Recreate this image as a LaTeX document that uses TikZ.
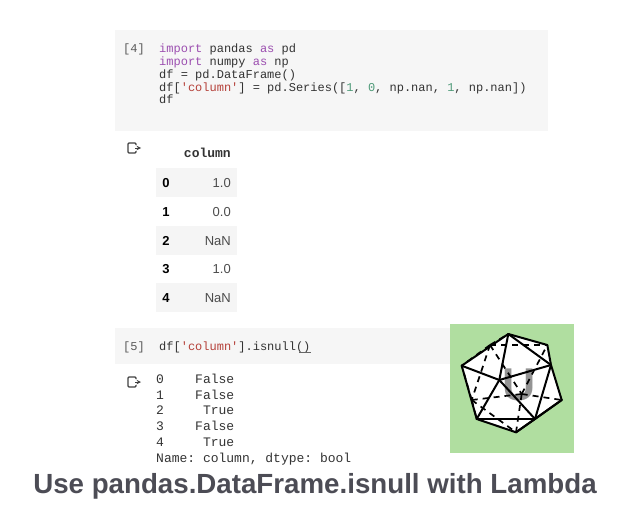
\documentclass[tikz,border=0pt]{standalone}
\usepackage{fontspec}
\usepackage{xcolor}
\setmainfont{Liberation Sans}
\newfontfamily\codefont{Liberation Mono}
\frenchspacing
\definecolor{cellgray}{HTML}{F6F6F6}
\definecolor{stripegray}{HTML}{F5F5F5}
\definecolor{kwpurple}{HTML}{9C4FB0}
\definecolor{strred}{HTML}{B5413A}
\definecolor{numgreen}{HTML}{4E9A78}
\definecolor{codetext}{HTML}{333333}
\definecolor{icogreen}{HTML}{B0DEA0}
\definecolor{titlegray}{HTML}{4C4C55}
\newcommand{\kw}[1]{\textcolor{kwpurple}{#1}}
\newcommand{\st}[1]{\textcolor{strred}{#1}}
\newcommand{\nm}[1]{\textcolor{numgreen}{#1}}
\tikzset{
    codeline/.style={anchor=base west, inner sep=0pt, text=codetext, font=\codefont\fontsize{12}{12}\selectfont},
    outline/.style={anchor=base west, inner sep=0pt, text=codetext, font=\codefont\fontsize{13}{13}\selectfont},
    promptnum/.style={anchor=base west, inner sep=0pt, text=black!65, font=\codefont\fontsize{12}{12}\selectfont},
    rowidx/.style={anchor=base, inner sep=0pt, font=\bfseries\fontsize{13}{13}\selectfont},
    rowval/.style={anchor=base east, inner sep=0pt, text=black!70, font=\fontsize{13}{13}\selectfont},
    solidedge/.style={line width=2pt, line join=round, line cap=round},
    backedge/.style={line width=1.7pt, dash pattern=on 6pt off 5pt},
}
\begin{document}
\begin{tikzpicture}[x=1pt, y=-1pt]
    \useasboundingbox (0,0) rectangle (623,516);

    \fill[cellgray] (115,30) rectangle (548,131);
    \fill[cellgray] (115,328) rectangle (450,364);
    \fill[icogreen] (450,324) rectangle (574,453);

    \node[promptnum] (prompta) at (123,53) {[4]};
    \node[codeline] (linea) at (159,53) {\kw{import} pandas \kw{as} pd};
    \node[codeline] (lineb) at (159,66) {\kw{import} numpy \kw{as} np};
    \node[codeline] (linec) at (159,79) {df = pd.DataFrame()};
    \node[codeline] (lined) at (159,92) {df[\st{'column'}] = pd.Series([\nm{1}, \nm{0}, np.nan, \nm{1}, np.nan])};
    \node[codeline] (linee) at (159,104) {df};

    \foreach \ypos in {148,382} {
        \draw[black!75, line width=1.2pt, rounded corners=1pt] (136,\ypos-3) to (136,\ypos-5) to (128,\ypos-5) to (128,\ypos+5) to (136,\ypos+5) to (136,\ypos+3);
        \draw[black!75, line width=1pt, -stealth] (135,\ypos) to (141,\ypos);
    }

    \node[anchor=base east, inner sep=0pt, text=codetext, font=\codefont\bfseries\fontsize{13}{13}\selectfont] (colhead) at (231,157) {column};
    \foreach \rowtop in {168,226,283} {
        \fill[stripegray] (156,\rowtop) rectangle (237,\rowtop+29);
    }
    \foreach \n/\ybase/\val in {0/187/1.0, 1/216/0.0, 2/245/NaN, 3/273/1.0, 4/302/NaN} {
        \node[rowidx] (idx\n) at (166,\ybase) {\n};
        \node[rowval] (val\n) at (231,\ybase) {\val};
    }

    \node[promptnum] (promptb) at (123,350) {[5]};
    \node[codeline] (linef) at (159,350) {df[\st{'column'}].isnull()};
    \draw[black!60, line width=0.5pt] (299,352) to (311,352);

    \foreach \n/\ybase/\val in {0/383/0\ \ \ \ False, 1/399/1\ \ \ \ False, 2/414/2\ \ \ \ \ True, 3/430/3\ \ \ \ False, 4/446/4\ \ \ \ \ True} {
        \node[outline] (out\n) at (156,\ybase) {\val};
    }
    \node[outline] (outname) at (156,462) {Name: column, dtype: bool};

    \coordinate (top) at (508.3,334);
    \coordinate (upr) at (547.3,345);
    \coordinate (rgt) at (551,365);
    \coordinate (far) at (561.7,400);
    \coordinate (lwr) at (535,419);
    \coordinate (bot) at (516,432.3);
    \coordinate (lwl) at (476.7,419);
    \coordinate (lft) at (461.7,365.7);
    \coordinate (mid) at (499.3,380);
    \coordinate (backa) at (490,345);
    \coordinate (backb) at (471.7,400);
    \coordinate (backc) at (521.7,394);

    \fill[white] (top) to (upr) to (rgt) to (far) to (bot) to (lwl) to (lft) to cycle;
    \node[inner sep=0pt, text=black!42, font=\bfseries\fontsize{46}{46}\selectfont] (letter) at (518.7,385) {U};

    \foreach \a/\b in {backa/upr, backa/lft, backa/backb, backa/top, backa/backc, backb/backc, backb/lwl, backb/bot, backb/lft, backc/upr, backc/far, backc/bot} {
        \draw[backedge] (\a) to (\b);
    }
    \foreach \a/\b in {top/lft, top/upr, upr/rgt, top/rgt, rgt/far, far/bot, bot/lwl, lwl/lft, lft/mid, mid/top, mid/rgt, mid/lwl, mid/lwr, lwl/lwr, lwr/rgt, lwr/far, lwr/bot} {
        \draw[solidedge] (\a) to (\b);
    }

    \node[inner sep=0pt, text=titlegray, font=\bfseries\fontsize{27.7}{27.7}\selectfont] (title) at (315,486) {Use pandas.DataFrame.isnull with Lambda};
\end{tikzpicture}
\end{document}
